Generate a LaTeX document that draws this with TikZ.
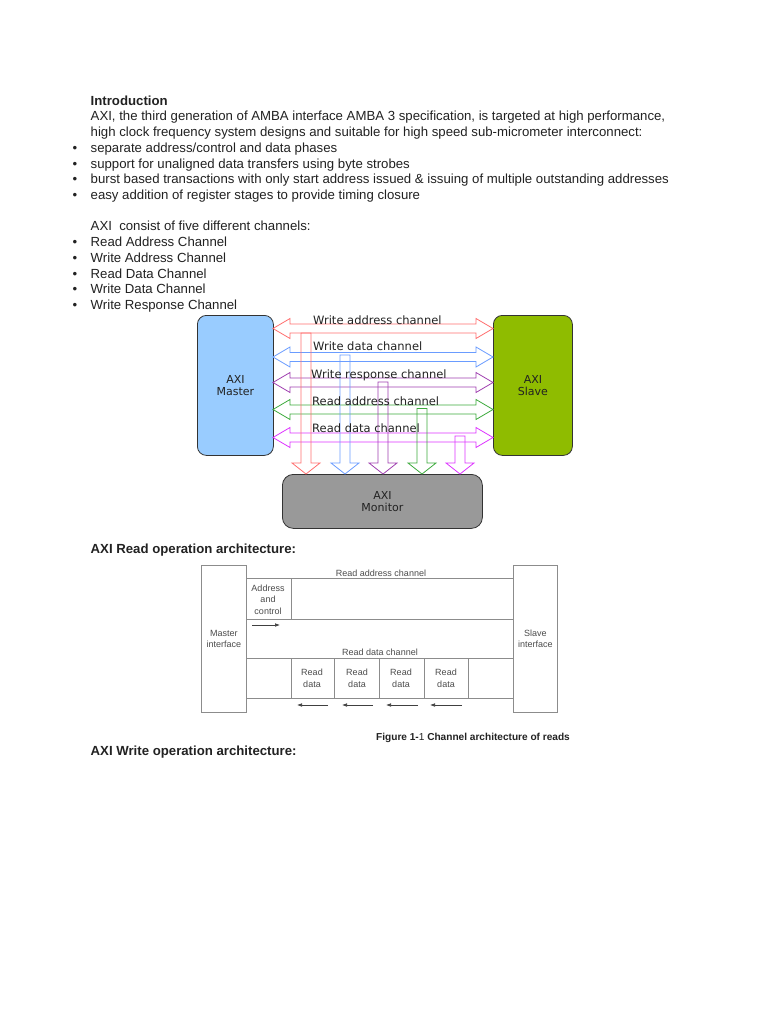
\documentclass[tikz,border=0pt]{standalone}
\usepackage{fontspec}
\setmainfont{Liberation Sans}
\newfontfamily\dejavu{DejaVu Sans}
\usetikzlibrary{arrows.meta}
\definecolor{cred}{HTML}{FF6F6F}
\definecolor{cblue}{HTML}{6A9CFF}
\definecolor{cpurple}{HTML}{A040B0}
\definecolor{cgreen}{HTML}{3DAA3D}
\definecolor{cmag}{HTML}{DD33FF}
\definecolor{mfill}{HTML}{99CCFF}
\definecolor{sfill}{HTML}{8FBC00}
\definecolor{monfill}{HTML}{999999}
\definecolor{txt}{HTML}{222222}
\definecolor{gline}{HTML}{8C8C8C}
\newcommand\chanarrow[2]{%
  \draw[#1, fill=white, line width=0.8pt] (273,#2) -- (290,#2-10) -- (290,#2-4.5) -- (476,#2-4.5) -- (476,#2-10) -- (493,#2) -- (476,#2+10) -- (476,#2+4.5) -- (290,#2+4.5) -- (290,#2+10) -- cycle;}
\newcommand\monarrow[3]{%
  \draw[#1, line width=0.8pt] (#2-5,#3) -- (#2+5,#3) -- (#2+5,463) -- (#2+14,463) -- (#2,474) -- (#2-14,463) -- (#2-5,463) -- cycle;}
\begin{document}
\begin{tikzpicture}[x=1pt,y=-1pt,
  body/.style={anchor=base west, inner sep=0pt, text=txt, font=\fontsize{13.2}{15.7}\selectfont},
  bodyb/.style={body, font=\fontsize{13.2}{15.7}\selectfont\bfseries},
  bul/.style={anchor=base, inner sep=0pt, text=txt, font=\fontsize{13.2}{15.7}\selectfont},
  axibox/.style={draw=black!80, line width=0.8pt, rounded corners=9pt, align=center, inner sep=0pt, text=txt, font=\dejavu\fontsize{11}{12}\selectfont},
  chlab/.style={anchor=base west, inner sep=0pt, text=txt, font=\dejavu\fontsize{11.5}{13}\selectfont},
  ifbox/.style={draw=gline, line width=0.7pt, align=center, inner sep=0pt, text=black!70, font=\fontsize{9}{11.5}\selectfont},
  small/.style={inner sep=0pt, align=center, text=black!70, font=\fontsize{9}{11.5}\selectfont},
  gl/.style={draw=gline, line width=0.7pt},
  smallarr/.style={draw=black!75, line width=0.6pt, -{Latex[length=5pt,width=3.6pt]}}
]
\useasboundingbox[fill=white] (0,0) rectangle (768,1024);

% ---- text ----
\node[bodyb] (intro) at (90.5,105.5) {Introduction};
\node[body] (l1) at (90.5,121) {AXI, the third generation of AMBA interface AMBA 3 specification, is targeted at high performance,};
\node[body] (l2) at (90.5,136.7) {high clock frequency system designs and suitable for high speed sub-micrometer interconnect:};
\node[bul] (b1) at (75,152.4) {\textbullet};
\node[body] (t1) at (90.5,152.4) {separate address/control and data phases};
\node[bul] (b2) at (75,168.1) {\textbullet};
\node[body] (t2) at (90.5,168.1) {support for unaligned data transfers using byte strobes};
\node[bul] (b3) at (75,183.8) {\textbullet};
\node[body] (t3) at (90.5,183.8) {burst based transactions with only start address issued \& issuing of multiple outstanding addresses};
\node[bul] (b4) at (75,199.5) {\textbullet};
\node[body] (t4) at (90.5,199.5) {easy addition of register stages to provide timing closure};
\node[body] (c0) at (90.5,230.9) {AXI\ \ consist of five different channels:};
\node[bul] (cb1) at (75,246.6) {\textbullet};
\node[body] (c1) at (90.5,246.6) {Read Address Channel};
\node[bul] (cb2) at (75,262.3) {\textbullet};
\node[body] (c2) at (90.5,262.3) {Write Address Channel};
\node[bul] (cb3) at (75,278) {\textbullet};
\node[body] (c3) at (90.5,278) {Read Data Channel};
\node[bul] (cb4) at (75,293.7) {\textbullet};
\node[body] (c4) at (90.5,293.7) {Write Data Channel};
\node[bul] (cb5) at (75,309.4) {\textbullet};
\node[body] (c5) at (90.5,309.4) {Write Response Channel};

% ---- top diagram ----
\node[axibox, fill=mfill, minimum width=76pt, minimum height=140pt, anchor=north west] (master) at (197,315) {AXI\\Master};
\node[axibox, fill=sfill, minimum width=79pt, minimum height=140pt, anchor=north west] (slave) at (493,315) {AXI\\Slave};
\node[axibox, fill=monfill, rounded corners=11pt, minimum width=200pt, minimum height=54pt, anchor=north west] (monitor) at (282,474) {AXI\\Monitor};

\chanarrow{cred}{328.5}
\chanarrow{cblue}{357}
\chanarrow{cpurple}{382.5}
\chanarrow{cgreen}{409.5}
\chanarrow{cmag}{437.5}

\monarrow{cred}{306}{333}
\monarrow{cblue}{345}{355}
\monarrow{cpurple}{383}{382}
\monarrow{cgreen}{422}{408.5}
\monarrow{cmag}{460}{436}

\node[chlab] (lwa) at (313,324) {Write address channel};
\node[chlab] (lwd) at (313,350) {Write data channel};
\node[chlab] (lwr) at (311,378) {Write response channel};
\node[chlab] (lra) at (312,405) {Read address channel};
\node[chlab] (lrd) at (312,432) {Read data channel};

% ---- heading ----
\node[bodyb] (h1) at (90.5,553.5) {AXI Read operation architecture:};

% ---- read architecture diagram ----
\node[ifbox, minimum width=45pt, minimum height=147pt, anchor=north west] (mif) at (201,565) {Master\\interface};
\node[ifbox, minimum width=44pt, minimum height=147pt, anchor=north west] (sif) at (513,565) {Slave\\interface};

\draw[gl] (mif.east |- 0,578) -- (sif.west |- 0,578);
\draw[gl] (mif.east |- 0,619) -- (sif.west |- 0,619);
\draw[gl] (mif.east |- 0,658) -- (sif.west |- 0,658);
\draw[gl] (mif.east |- 0,698) -- (sif.west |- 0,698);
\draw[gl] (291,578) -- (291,619);
\foreach \xx in {291,334,379,424,468} \draw[gl] (\xx,658) -- (\xx,698);

\node[small] (rac) at (381,573) {Read address channel};
\node[small] (adc) at (268,599.5) {Address\\and\\control};
\node[small] (rdc) at (380,652.5) {Read data channel};
\node[small] (rd1) at (312,678.5) {Read\\data};
\node[small] (rd2) at (357,678.5) {Read\\data};
\node[small] (rd3) at (401,678.5) {Read\\data};
\node[small] (rd4) at (446,678.5) {Read\\data};

\coordinate (a0s) at (252,625); \coordinate (a0e) at (280,625);
\draw[smallarr] (a0s) -- (a0e);
\foreach \xs/\xe in {328/297, 373/342, 418/386, 462/430} {
  \draw[smallarr] (\xs,705) -- (\xe,705);
}

\node[anchor=base west, inner sep=0pt, text=txt, font=\fontsize{10.1}{12}\selectfont] (cap) at (376,740.5) {\textbf{Figure 1-}1 \textbf{Channel architecture of reads}};

\node[bodyb] (h2) at (90.5,755.5) {AXI Write operation architecture:};
\end{tikzpicture}
\end{document}
